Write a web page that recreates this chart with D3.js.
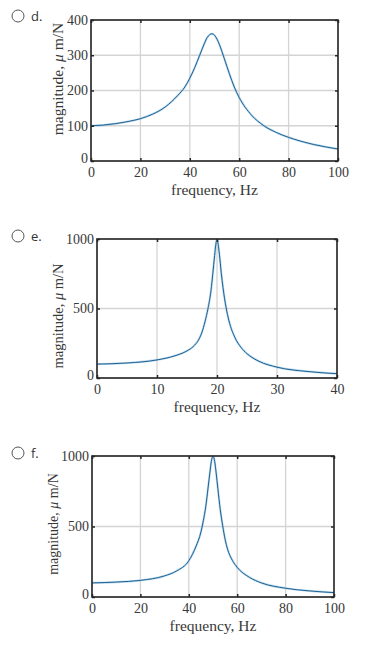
<!DOCTYPE html>
<html>
<head>
<meta charset="utf-8">
<script src="https://cdn.jsdelivr.net/npm/d3@7"></script>
<style>
  body { margin: 0; background: #fff; }
  svg { display: block; }
  .tick text { font-family: "Liberation Serif", "DejaVu Serif", serif; font-size: 14px; fill: #383838; }
</style>
</head>
<body>
<svg id="chart" width="367" height="659"></svg>
<script>
// values: frequency (Hz) and magnitude (micro m/N)
var freqD = [0, 5, 10, 15, 20, 25, 30, 35, 38, 40, 42, 44, 46, 47, 48, 49, 50, 51, 52, 54, 56, 58, 60, 65, 70, 75, 80, 85, 90, 95, 100];
var magD  = [100, 102, 106, 112, 120, 133, 153, 185, 210, 235, 265, 300, 335, 350, 358, 361, 357, 346, 330, 290, 248, 210, 180, 130, 100, 81, 67, 56, 47, 40, 34];

var freqE = [0, 5, 10, 13, 15, 16, 17, 17.5, 18, 18.5, 19, 19.3, 19.6, 19.8, 20, 20.2, 20.4, 20.7, 21, 21.5, 22, 23, 24, 25, 27, 30, 35, 40];
var magE  = [100, 108, 130, 160, 195, 225, 280, 330, 405, 500, 630, 750, 880, 960, 1000, 960, 890, 760, 650, 510, 410, 290, 220, 175, 120, 78, 47, 31];

var freqF = [0, 10, 20, 30, 35, 40, 43, 45, 46, 47, 48, 48.7, 49.3, 50, 50.7, 51.3, 52, 53, 54, 55, 56, 58, 60, 65, 70, 80, 90, 100];
var magF  = [100, 106, 118, 150, 185, 257, 360, 460, 540, 640, 780, 880, 960, 1000, 960, 880, 770, 620, 505, 410, 340, 260, 210, 140, 100, 62, 43, 31];

var ticksXD = [0, 20, 40, 60, 80, 100];
var ticksYD = [0, 100, 200, 300, 400];
var ticksXE = [0, 10, 20, 30, 40];
var ticksYE = [0, 500, 1000];
var ticksXF = [0, 20, 40, 60, 80, 100];
var ticksYF = [0, 500, 1000];

var panels = [
  { letter: "d.", ry: 16, box: [91, 20, 338, 161], xdom: [0, 100], ydom: [0, 400],
    xs: freqD, ys: magD, tx: ticksXD, ty: ticksYD, labX: 58, labY: 79, labSize: 15.5 },
  { letter: "e.", ry: 236, box: [97, 239, 337, 378], xdom: [0, 40], ydom: [0, 1000],
    xs: freqE, ys: magE, tx: ticksXE, ty: ticksYE, labX: 58, labY: 316, labSize: 14.5 },
  { letter: "f.", ry: 453, box: [92, 456, 334, 597], xdom: [0, 100], ydom: [0, 1000],
    xs: freqF, ys: magF, tx: ticksXF, ty: ticksYF, labX: 53, labY: 524, labSize: 14 }
];

var svg = d3.select("#chart");
var serif = "'Liberation Serif', 'DejaVu Serif', serif";
var fmt = d3.format("d");

panels.forEach(function (p) {
  var x0 = p.box[0], y0 = p.box[1], x1 = p.box[2], y1 = p.box[3];
  var x = d3.scaleLinear().domain(p.xdom).range([x0, x1]);
  var y = d3.scaleLinear().domain(p.ydom).range([y1, y0]);
  var g = svg.append("g");

  // radio button + option letter
  g.append("circle")
    .attr("cx", 18).attr("cy", p.ry).attr("r", 6)
    .attr("fill", "#fff").attr("stroke", "#555").attr("stroke-width", 1);
  g.append("text")
    .attr("x", 31).attr("y", p.ry + 5)
    .attr("font-family", "'Open Sans', 'Noto Sans', sans-serif")
    .attr("font-size", 13).attr("fill", "#333")
    .text(p.letter);

  // grid lines
  g.append("g").selectAll("line").data(p.tx).join("line")
    .attr("x1", d => x(d)).attr("x2", d => x(d))
    .attr("y1", y0).attr("y2", y1)
    .attr("stroke", "#d4d4d4").attr("stroke-width", 1.3);
  g.append("g").selectAll("line").data(p.ty).join("line")
    .attr("x1", x0).attr("x2", x1)
    .attr("y1", d => y(d)).attr("y2", d => y(d))
    .attr("stroke", "#d4d4d4").attr("stroke-width", 1.3);

  // curve
  var line = d3.line()
    .x((d, i) => x(p.xs[i]))
    .y(d => y(d))
    .curve(d3.curveMonotoneX);
  g.append("path")
    .datum(p.ys)
    .attr("d", line)
    .attr("fill", "none")
    .attr("stroke", "#8ec3e6").attr("stroke-width", 2.2).attr("opacity", 0.6);
  g.append("path")
    .datum(p.ys)
    .attr("d", line)
    .attr("fill", "none")
    .attr("stroke", "#1f5f8f").attr("stroke-width", 1);

  // axes (ticks inside, matlab style)
  g.append("g")
    .attr("transform", "translate(0," + y1 + ")")
    .call(d3.axisBottom(x).tickValues(p.tx).tickFormat(fmt).tickSizeInner(-3).tickSizeOuter(0).tickPadding(6));
  var ay = g.append("g")
    .attr("transform", "translate(" + x0 + ",0)")
    .call(d3.axisLeft(y).tickValues(p.ty).tickFormat(fmt).tickSizeInner(-3).tickSizeOuter(0).tickPadding(3));
  // matlab nudges the bottom-left zero up a little
  ay.selectAll(".tick text").filter(d => d === 0).attr("dy", "0.1em");
  var at = g.append("g")
    .attr("transform", "translate(0," + y0 + ")")
    .call(d3.axisTop(x).tickValues(p.tx).tickSizeInner(-3).tickSizeOuter(0));
  at.selectAll("text").remove();
  var ar = g.append("g")
    .attr("transform", "translate(" + x1 + ",0)")
    .call(d3.axisRight(y).tickValues(p.ty).tickSizeInner(-3).tickSizeOuter(0));
  ar.selectAll("text").remove();
  g.selectAll(".domain").remove();
  g.selectAll(".tick line").attr("stroke", "#262626").attr("stroke-width", 1.5);

  // box
  g.append("rect")
    .attr("x", x0).attr("y", y0)
    .attr("width", x1 - x0).attr("height", y1 - y0)
    .attr("fill", "none").attr("stroke", "#262626").attr("stroke-width", 1.6);

  // axis titles
  g.append("text")
    .attr("x", (x0 + x1) / 2).attr("y", y1 + 34)
    .attr("text-anchor", "middle")
    .attr("font-family", serif).attr("font-size", 15.5).attr("fill", "#383838")
    .text("frequency, Hz");
  var yl = g.append("text")
    .attr("transform", "translate(" + p.labX + "," + p.labY + ") rotate(-90)")
    .attr("text-anchor", "middle")
    .attr("dy", "0.35em")
    .attr("font-family", serif).attr("font-size", p.labSize).attr("fill", "#383838");
  yl.append("tspan").text("magnitude, ");
  yl.append("tspan").attr("font-style", "italic").text("\u03bc");
  yl.append("tspan").text(" m/N");
});
</script>
</body>
</html>
